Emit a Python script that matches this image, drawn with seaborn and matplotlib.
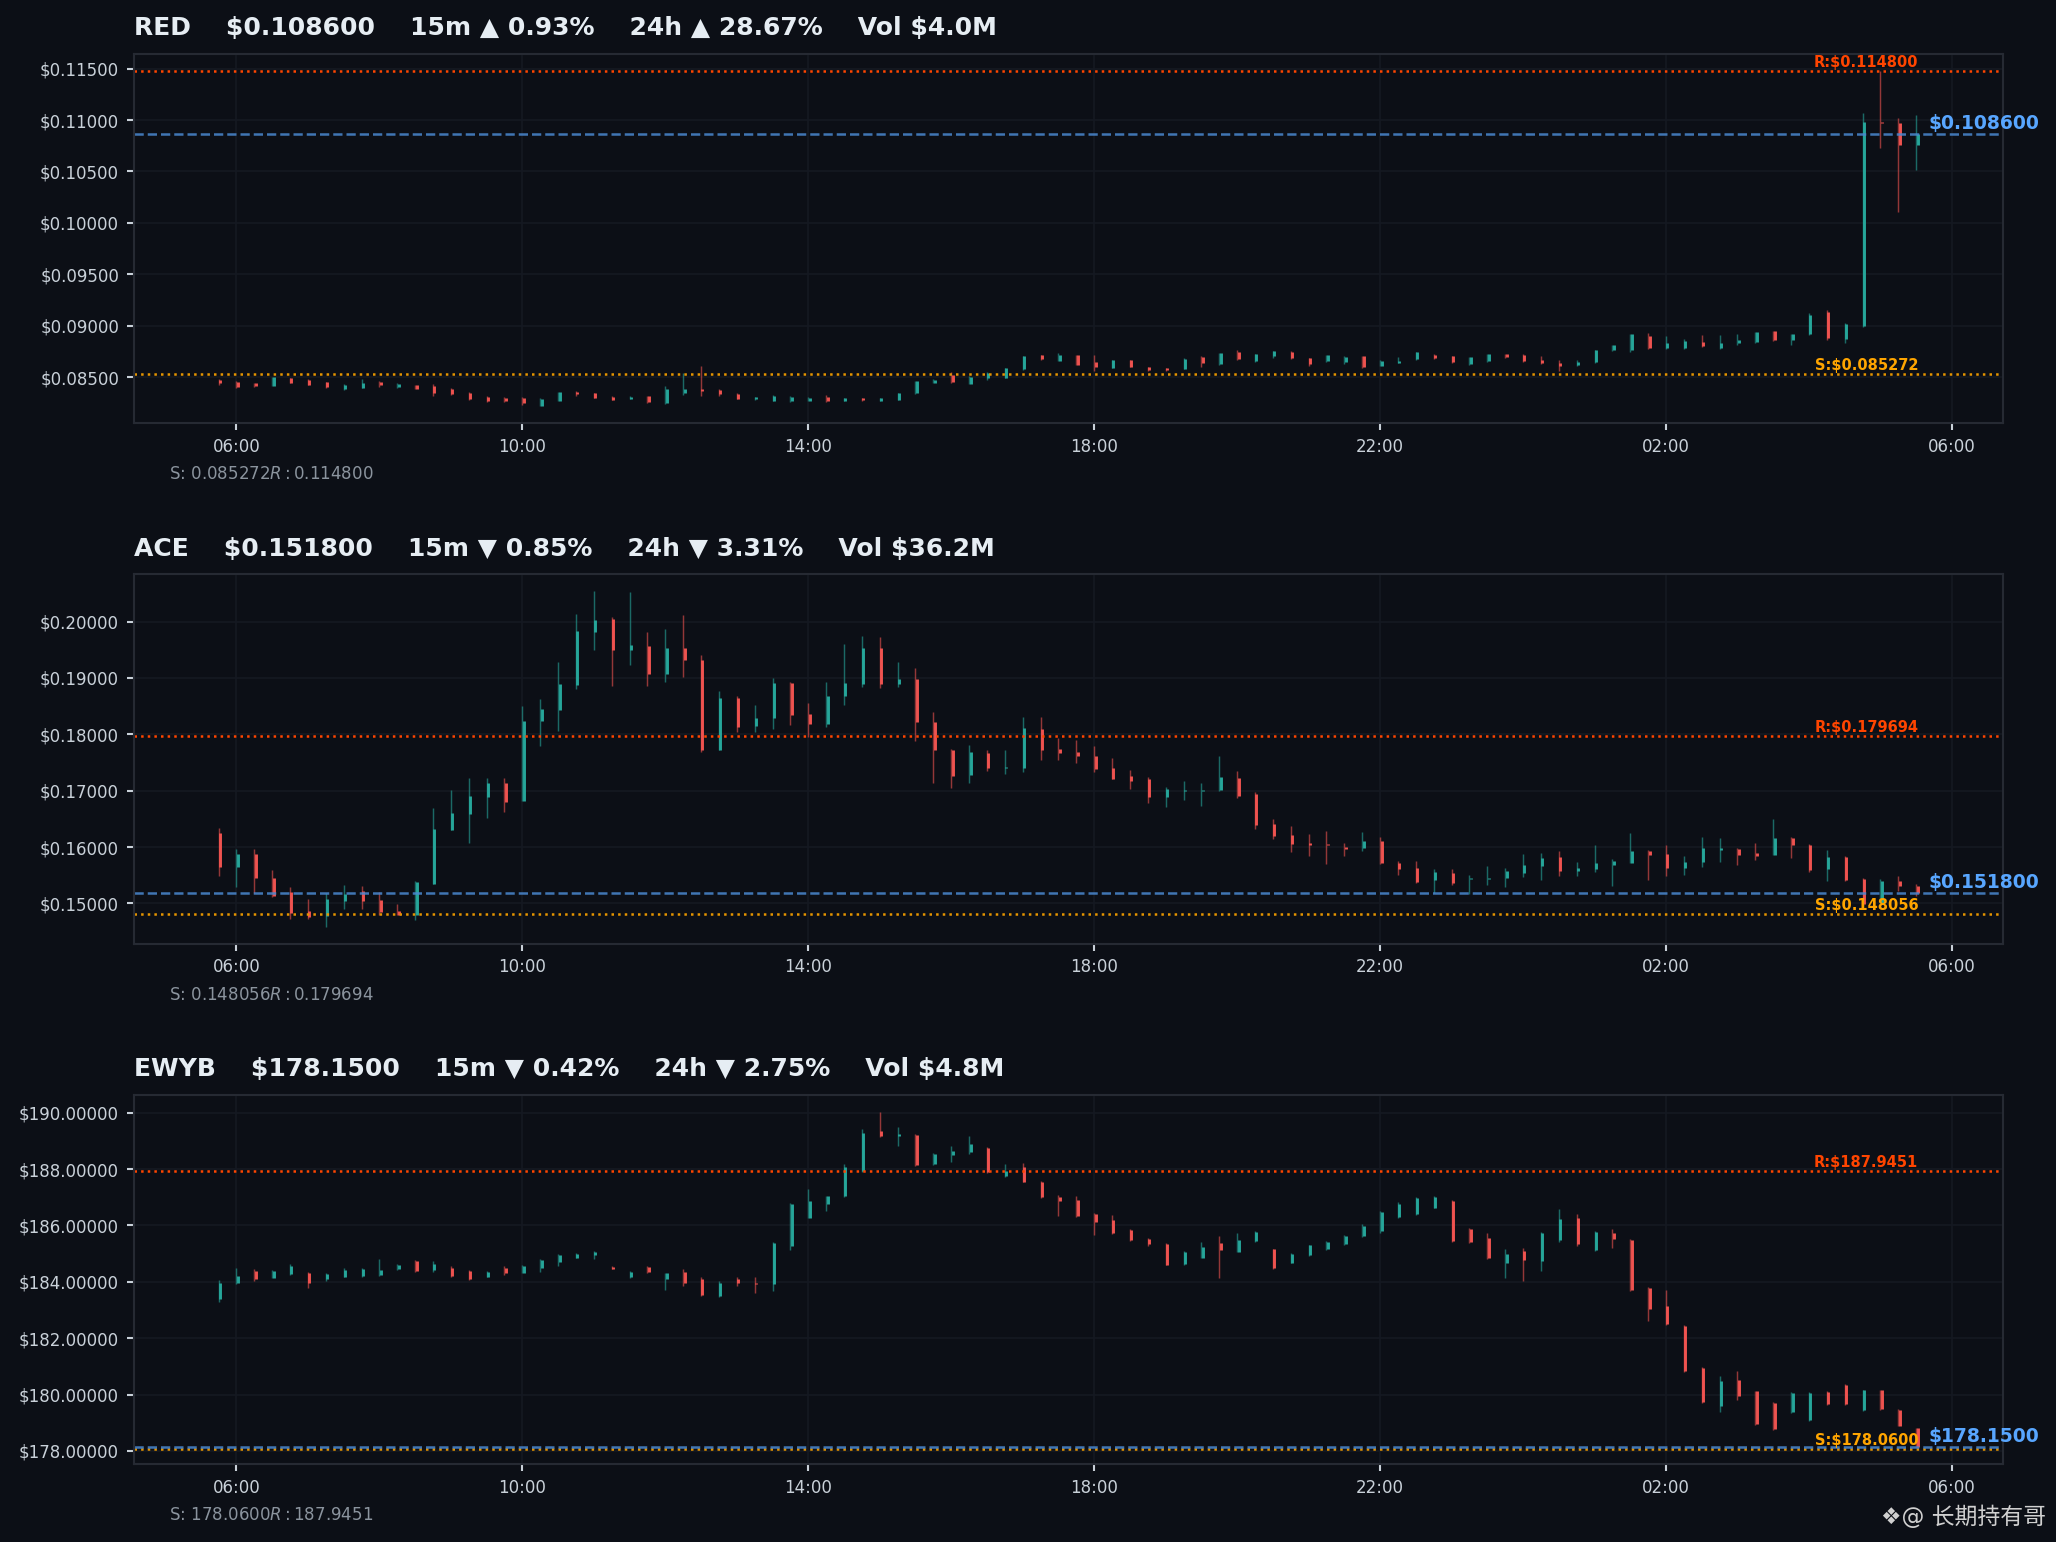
import numpy as np
import pandas as pd
import matplotlib
matplotlib.use("Agg")
import matplotlib.pyplot as plt
import matplotlib.dates as mdates
from matplotlib.ticker import FuncFormatter
import seaborn as sns

# 15 minute candles, 05:45 -> 05:30 next day
times = pd.date_range("2024-05-20 05:45", periods=96, freq="15min")

# ---- RED ----
red_open = [.08475, .08452, .08440, .08415, .08490, .08475, .08448, .08385, .08397, .08452,
            .08404, .08424, .08413, .08385, .08349, .08310, .08300, .08300, .08220, .08267,
            .08355, .08342, .08310, .08290, .08313, .08251, .08342, .08388, .08378, .08335,
            .08284, .08270, .08267, .08270, .08310, .08268, .08297, .08265, .08275, .08340,
            .08440, .08520, .08430, .08490, .08490, .08575, .08715, .08660, .08710, .08650,
            .08590, .08665, .08598, .08585, .08580, .08690, .08625, .08745, .08652, .08700,
            .08745, .08685, .08655, .08650, .08700, .08605, .08640, .08672, .08712, .08705,
            .08625, .08652, .08720, .08710, .08670, .08640, .08615, .08642, .08760, .08760,
            .08895, .08785, .08780, .08840, .08785, .08830, .08840, .08945, .08860, .08915,
            .09130, .08870, .09000, .10985, .10970, .10760]
red_high = [.08479, .08465, .08446, .08504, .08495, .08479, .08452, .08430, .08479, .08459,
            .08440, .08427, .08430, .08391, .08355, .08313, .08306, .08306, .08293, .08355,
            .08361, .08345, .08316, .08313, .08316, .08414, .08537, .08608, .08381, .08342,
            .08310, .08326, .08316, .08306, .08326, .08300, .08300, .08300, .08344, .08464,
            .08483, .08552, .08506, .08552, .08590, .08707, .08717, .08736, .08717, .08717,
            .08669, .08669, .08600, .08590, .08688, .08707, .08736, .08765, .08726, .08756,
            .08756, .08688, .08717, .08707, .08707, .08661, .08690, .08746, .08720, .08707,
            .08697, .08726, .08727, .08727, .08707, .08662, .08662, .08766, .08814, .08921,
            .08931, .08902, .08873, .08912, .08912, .08921, .08941, .08950, .08921, .09125,
            .09155, .09028, .11072, .11480, .11023, .11052]
red_low = [.08423, .08394, .08404, .08413, .08440, .08420, .08394, .08375, .08391, .08404,
           .08394, .08381, .08313, .08323, .08274, .08254, .08254, .08225, .08215, .08264,
           .08316, .08293, .08274, .08284, .08251, .08235, .08326, .08316, .08316, .08284,
           .08277, .08264, .08258, .08264, .08260, .08262, .08268, .08262, .08272, .08338,
           .08438, .08445, .08428, .08474, .08486, .08571, .08669, .08652, .08613, .08555,
           .08584, .08594, .08555, .08555, .08574, .08600, .08620, .08669, .08649, .08688,
           .08678, .08610, .08649, .08630, .08590, .08603, .08639, .08669, .08678, .08639,
           .08620, .08649, .08688, .08642, .08630, .08561, .08610, .08639, .08756, .08740,
           .08775, .08775, .08775, .08795, .08775, .08814, .08834, .08847, .08814, .08912,
           .08863, .08834, .08990, .10724, .10102, .10517]
red_close = [.08445, .08407, .08410, .08500, .08445, .08425, .08400, .08425, .08443, .08423,
             .08433, .08385, .08349, .08330, .08290, .08262, .08270, .08245, .08290, .08352,
             .08335, .08297, .08280, .08310, .08258, .08381, .08381, .08361, .08335, .08290,
             .08303, .08320, .08310, .08300, .08270, .08295, .08275, .08295, .08340, .08462,
             .08470, .08450, .08500, .08540, .08585, .08700, .08680, .08712, .08620, .08595,
             .08665, .08600, .08565, .08565, .08680, .08640, .08730, .08680, .08720, .08750,
             .08685, .08625, .08712, .08690, .08600, .08655, .08660, .08742, .08685, .08645,
             .08692, .08720, .08695, .08660, .08635, .08605, .08650, .08760, .08810, .08920,
             .08780, .08830, .08850, .08800, .08830, .08860, .08935, .08865, .08920, .09100,
             .08875, .09020, .10984, .10970, .10760, .10860]

# ---- ACE ----
ace_open = [.16247, .15652, .15876, .15452, .15200, .14870, .14769, .15051, .15228, .15069,
            .14875, .14799, .15346, .16305, .16582, .16888, .17130, .16817, .18230, .18437,
            .18878, .19819, .20051, .19496, .19567, .19072, .19532, .19320, .17730, .18649,
            .18142, .18295, .18913, .18366, .18189, .18673, .18896, .19532, .18896, .18984,
            .18225, .17730, .17271, .17677, .17395, .17395, .18101, .17737, .17695, .17624,
            .17395, .17253, .17200, .16883, .16995, .16995, .17006, .17218, .16936, .16406,
            .16212, .16071, .16053, .16000, .15982, .16106, .15720, .15628, .15417, .15540,
            .15434, .15434, .15452, .15540, .15664, .15823, .15576, .15610, .15682, .15720,
            .15929, .15876, .15629, .15735, .15947, .15965, .15894, .15858, .16158, .16035,
            .15610, .15823, .15434, .15000, .15399, .15310]
ace_high = [.16335, .15964, .15964, .15593, .15288, .15081, .15182, .15328, .15316, .15200,
            .14993, .15404, .16688, .17006, .17218, .17218, .17218, .18495, .18631, .19284,
            .20132, .20538, .20086, .20520, .19814, .19867, .20114, .19408, .18772, .18684,
            .18525, .19002, .18931, .18560, .18931, .19602, .19743, .19726, .19284, .19178,
            .18401, .17737, .17819, .17713, .17713, .18313, .18313, .17942, .17907, .17801,
            .17571, .17359, .17236, .17059, .17165, .17130, .17607, .17342, .16971, .16494,
            .16370, .16229, .16282, .16070, .16264, .16176, .15752, .15752, .15610, .15610,
            .15505, .15664, .15629, .15876, .15894, .15929, .15735, .16035, .15788, .16247,
            .15947, .16035, .15841, .16176, .16158, .15982, .16070, .16494, .16176, .16053,
            .15947, .15841, .15452, .15434, .15487, .15346]
ace_low = [.15493, .15298, .15182, .15122, .14728, .14728, .14587, .14905, .14905, .14799,
           .14793, .14710, .15346, .16305, .16070, .16512, .16623, .16817, .17790, .18066,
           .18807, .19496, .18860, .19231, .18850, .18936, .19025, .17684, .17730, .18036,
           .18036, .18101, .18172, .17955, .18124, .18525, .18843, .18825, .18843, .17889,
           .17130, .17041, .17130, .17342, .17289, .17324, .17536, .17536, .17483, .17324,
           .17200, .17024, .16777, .16706, .16830, .16724, .16995, .16866, .16317, .16141,
           .15911, .15841, .15699, .15841, .15929, .15699, .15505, .15364, .15187, .15328,
           .15170, .15328, .15293, .15470, .15417, .15487, .15487, .15558, .15311, .15720,
           .15417, .15487, .15505, .15646, .15735, .15682, .15770, .15858, .15805, .15558,
           .15399, .15399, .14963, .14990, .15223, .15140]
ace_close = [.15652, .15876, .15452, .15140, .14829, .14760, .15081, .15170, .15051, .14857,
             .14799, .15376, .16317, .16600, .16905, .17130, .16800, .18242, .18454, .18896,
             .19832, .20026, .19496, .19584, .19072, .19532, .19325, .17720, .18649, .18124,
             .18295, .18913, .18348, .18189, .18684, .18913, .19532, .18896, .18984, .18225,
             .17730, .17253, .17695, .17395, .17405, .18119, .17713, .17677, .17624, .17377,
             .17200, .17165, .16883, .17024, .17006, .17015, .17236, .16900, .16388, .16194,
             .16053, .16035, .16030, .15964, .16106, .15720, .15610, .15381, .15558, .15364,
             .15452, .15452, .15576, .15682, .15805, .15576, .15629, .15720, .15752, .15929,
             .15858, .15629, .15735, .15982, .15982, .15858, .15841, .16158, .16035, .15593,
             .15823, .15417, .14993, .15399, .15310, .15180]

# ---- EWYB ----
ewyb_open = [183.38, 183.97, 184.39, 184.12, 184.27, 184.30, 184.09, 184.16, 184.21, 184.24,
             184.45, 184.73, 184.42, 184.50, 184.39, 184.18, 184.50, 184.33, 184.48, 184.71,
             184.86, 184.94, 184.53, 184.16, 184.54, 184.09, 184.35, 184.09, 183.50, 184.09,
             183.97, 183.91, 185.28, 186.27, 186.76, 187.06, 187.95, 189.35, 189.19, 189.22,
             188.18, 188.50, 188.60, 188.74, 187.77, 188.07, 187.53, 187.00, 186.91, 186.40,
             186.20, 185.85, 185.51, 185.34, 184.62, 184.86, 185.37, 185.06, 185.45, 185.16,
             184.68, 184.94, 185.16, 185.34, 185.63, 185.80, 186.29, 186.40, 186.63, 186.88,
             185.87, 185.55, 184.68, 185.10, 184.74, 185.50, 186.25, 185.12, 185.73, 185.48,
             183.78, 183.14, 182.43, 180.94, 179.58, 180.53, 180.11, 179.70, 179.37, 179.10,
             180.08, 180.35, 179.46, 180.15, 179.46, 178.80]
ewyb_high = [184.07, 184.48, 184.45, 184.42, 184.62, 184.35, 184.30, 184.50, 184.48, 184.80,
             184.62, 184.77, 184.73, 184.56, 184.42, 184.39, 184.56, 184.59, 184.80, 184.98,
             185.01, 185.09, 184.55, 184.39, 184.56, 184.33, 184.45, 184.16, 184.02, 184.16,
             184.16, 185.42, 186.80, 187.29, 187.06, 188.18, 189.43, 190.04, 189.50, 189.25,
             188.58, 188.81, 189.17, 188.78, 188.18, 188.22, 187.59, 187.09, 187.06, 186.44,
             186.38, 185.87, 185.55, 185.37, 185.10, 185.42, 185.61, 185.73, 185.80, 185.18,
             185.01, 185.32, 185.44, 185.66, 186.05, 186.51, 186.85, 187.01, 187.04, 186.90,
             185.91, 185.75, 185.16, 185.19, 185.77, 186.58, 186.40, 185.80, 185.87, 185.51,
             183.80, 183.71, 182.45, 180.97, 180.65, 180.85, 180.14, 179.72, 180.08, 180.08,
             180.11, 180.39, 180.17, 180.17, 179.50, 178.81]
ewyb_low = [183.28, 183.92, 184.03, 184.12, 184.23, 183.77, 184.03, 184.16, 184.16, 184.21,
            184.42, 184.35, 184.35, 184.16, 184.07, 184.16, 184.24, 184.30, 184.35, 184.56,
            184.84, 184.80, 184.45, 184.12, 184.33, 183.71, 183.85, 183.50, 183.45, 183.85,
            183.59, 183.67, 185.13, 186.27, 186.51, 187.02, 187.91, 189.13, 188.82, 188.12,
            188.15, 188.27, 188.55, 187.85, 187.71, 187.53, 186.97, 186.34, 186.31, 185.66,
            185.69, 185.44, 185.28, 184.59, 184.59, 184.84, 184.14, 185.06, 185.42, 184.45,
            184.66, 184.92, 185.14, 185.32, 185.58, 185.73, 186.25, 186.37, 186.61, 185.43,
            185.37, 184.80, 184.15, 184.03, 184.39, 185.42, 185.28, 185.10, 185.21, 183.67,
            182.61, 182.46, 180.79, 179.70, 179.37, 179.82, 178.93, 178.75, 179.34, 179.07,
            179.64, 179.64, 179.42, 179.46, 178.89, 178.13]
ewyb_close = [183.97, 184.21, 184.09, 184.39, 184.56, 183.97, 184.27, 184.42, 184.45, 184.42,
              184.59, 184.39, 184.62, 184.21, 184.11, 184.35, 184.33, 184.56, 184.77, 184.94,
              184.98, 185.06, 184.47, 184.35, 184.35, 184.30, 183.97, 183.52, 183.97, 183.97,
              183.91, 185.39, 186.76, 186.88, 187.03, 188.07, 189.29, 189.19, 189.25, 188.15,
              188.54, 188.66, 188.90, 187.89, 187.95, 187.56, 187.00, 186.88, 186.34, 186.11,
              185.73, 185.47, 185.34, 184.60, 185.06, 185.22, 185.13, 185.49, 185.77, 184.50,
              184.98, 185.30, 185.42, 185.63, 185.99, 186.49, 186.76, 186.99, 187.02, 185.45,
              185.42, 184.83, 184.98, 184.77, 185.75, 186.23, 185.34, 185.77, 185.51, 183.71,
              183.02, 182.49, 180.83, 179.72, 180.47, 179.94, 178.96, 178.77, 180.05, 180.05,
              179.67, 179.67, 180.15, 179.48, 178.90, 178.15]

symbols = ["RED", "ACE", "EWYB"]
titles = ["RED    \\$0.108600    15m ▲ 0.93%    24h ▲ 28.67%    Vol \\$4.0M",
          "ACE    \\$0.151800    15m ▼ 0.85%    24h ▼ 3.31%    Vol \\$36.2M",
          "EWYB    \\$178.1500    15m ▼ 0.42%    24h ▼ 2.75%    Vol \\$4.8M"]
last_prices = [0.108600, 0.151800, 178.1500]
supports = [0.085272, 0.148056, 178.0600]
resistances = [0.114800, 0.179694, 187.9451]
price_labels = ["\\$0.108600", "\\$0.151800", "\\$178.1500"]
support_labels = ["S:\\$0.085272", "S:\\$0.148056", "S:\\$178.0600"]
resist_labels = ["R:\\$0.114800", "R:\\$0.179694", "R:\\$187.9451"]
# written with bare $ so it renders the same way as the source
info_labels = ["S: $0.085272    R: $0.114800",
               "S: $0.148056    R: $0.179694",
               "S: $178.0600    R: $187.9451"]
ohlc = [(red_open, red_high, red_low, red_close),
        (ace_open, ace_high, ace_low, ace_close),
        (ewyb_open, ewyb_high, ewyb_low, ewyb_close)]

BG = "#0c0f16"
SPINE = "#262a33"
GRID = "#151922"
TXT = "#e6edf3"
TICK = "#c9d1d9"
UP = "#26a69a"
DOWN = "#ef5350"

sns.set_theme(style="darkgrid", rc={
    "figure.facecolor": BG, "axes.facecolor": BG, "axes.edgecolor": SPINE,
    "axes.linewidth": 1.0, "grid.color": GRID, "grid.linewidth": 0.8,
    "xtick.color": TICK, "ytick.color": TICK, "xtick.bottom": True, "ytick.left": True,
    "xtick.major.size": 3.5, "ytick.major.size": 3.5, "xtick.major.width": 1.0,
    "ytick.major.width": 1.0, "xtick.labelsize": 8, "ytick.labelsize": 8,
})
plt.rcParams["font.family"] = ["DejaVu Sans", "Noto Sans CJK SC"]

fig, axes = plt.subplots(3, 1, figsize=(2056 / 150, 1542 / 150), dpi=150)
fig.subplots_adjust(left=0.065, right=0.974, top=0.965, bottom=0.0506, hspace=0.41)

x = mdates.date2num(times)
shift = 1.2 / 1440  # body drawn a hair right of the wick

for i, ax in enumerate(axes):
    o, h, l, c = [np.array(v) for v in ohlc[i]]
    cols = np.where(c >= o, UP, DOWN)
    ax.vlines(x, l, h, colors=cols, linewidth=0.7, alpha=0.6)
    lo = np.minimum(o, c)
    hi = np.maximum(o, c)
    hi = np.maximum(hi, lo + (h.max() - l.min()) * 0.004)
    ax.vlines(x + shift, lo, hi, colors=cols, linewidth=1.4)

    ax.axhline(resistances[i], color="#ff4500", linestyle=":", linewidth=1.2)
    ax.axhline(supports[i], color="#e69500", linestyle=":", linewidth=1.2)
    ax.axhline(last_prices[i], color="#4a88d0", linestyle="--", linewidth=1.2, alpha=0.85)

    ax.annotate(resist_labels[i], xy=(x[-1], resistances[i]), xytext=(1, 0.5),
                textcoords="offset points", ha="right", va="bottom",
                fontsize=7, fontweight="bold", color="#ff4500")
    ax.annotate(support_labels[i], xy=(x[-1], supports[i]), xytext=(1, 0.5),
                textcoords="offset points", ha="right", va="bottom",
                fontsize=7, fontweight="bold", color="#ffa500")
    ax.annotate(price_labels[i], xy=(x[-1], last_prices[i]), xytext=(6, 0.5),
                textcoords="offset points", ha="left", va="bottom",
                fontsize=9, fontweight="bold", color="#58a6ff", annotation_clip=False)

    ax.set_title(titles[i], loc="left", fontsize=12, fontweight="bold", color=TXT, pad=9)
    ax.text(0.019, -0.139, info_labels[i], transform=ax.transAxes, fontsize=8,
            color="#8b949e", ha="left", va="center")

    ax.xaxis.set_major_locator(mdates.HourLocator(byhour=range(2, 24, 4)))
    ax.xaxis.set_major_formatter(mdates.DateFormatter("%H:%M"))
    ax.yaxis.set_major_formatter(FuncFormatter(lambda v, _: f"${v:.5f}"))
    for s in ax.spines.values():
        s.set_visible(True)
        s.set_color(SPINE)

fig.text(0.995, 0.016, "❖@ 长期持有哥", ha="right", va="center", fontsize=11, color="#d0d0d0")

fig.savefig("out.png", dpi=150, facecolor=BG)
